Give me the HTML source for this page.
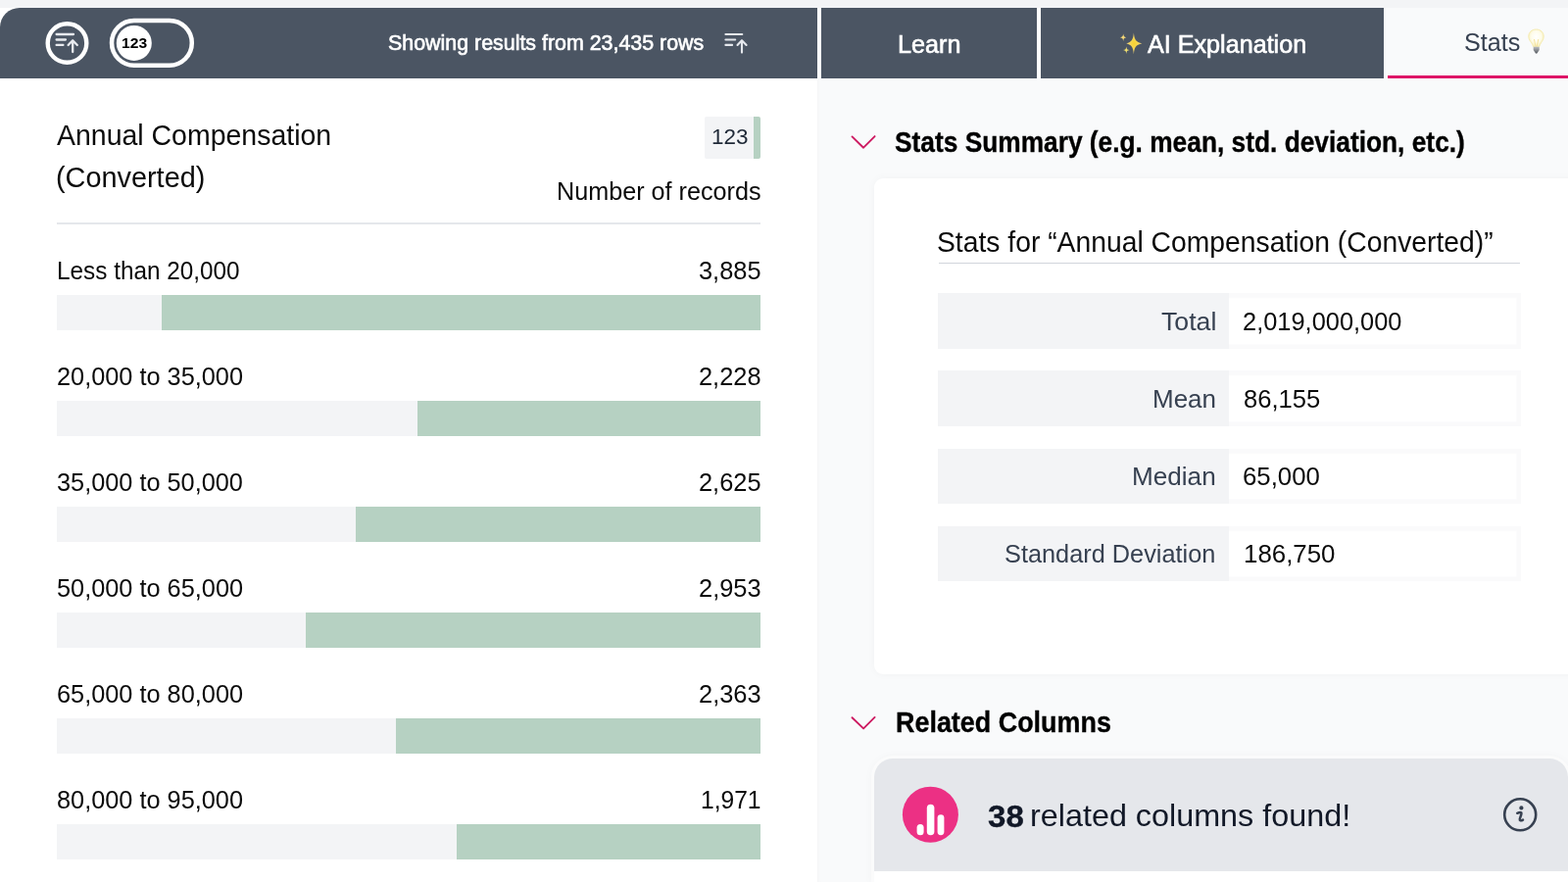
<!DOCTYPE html>
<html lang="en">
<head>
<meta charset="utf-8">
<title>Annual Compensation (Converted) – Stats</title>
<style>
html,body{margin:0;padding:0;}
body{width:1600px;height:900px;overflow:hidden;position:relative;background:#f3f4f6;font-family:"Liberation Sans",sans-serif;}
.abs{position:absolute;}
.t{position:absolute;white-space:nowrap;line-height:1;font-family:"Liberation Sans",sans-serif;transform-origin:0 50%;}
.dark{background:#4b5563;}
.track{position:absolute;left:58px;width:718px;height:35.5px;background:#f3f4f6;}
.fill{position:absolute;right:0;top:0;height:100%;background:#b6d1c2;}
.srow{position:absolute;left:956.5px;width:595px;height:56.5px;background:#ffffff;box-shadow:inset 0 0 0 4.5px #fafafb, inset 0 7px 3px -3px rgba(0,0,0,0.035);}
.srow i{position:absolute;left:0;top:0;width:297.5px;height:100%;background:#f3f4f6;display:block;}
</style>
</head>
<body>
<!-- header strip -->
<div class="abs" style="left:0;top:8px;width:1600px;height:72px;background:#ffffff;"></div>

<div class="abs dark" style="left:0;top:8px;width:834px;height:72px;border-top-left-radius:20px;"></div>
<div class="abs dark" style="left:838px;top:8px;width:220px;height:72px;"></div>
<div class="abs dark" style="left:1062px;top:8px;width:350px;height:72px;"></div>
<div class="abs" style="left:1412px;top:8px;width:188px;height:72px;background:#f9fafb;"></div>
<div class="abs" style="left:1416px;top:76.5px;width:184px;height:3.5px;background:#de1467;"></div>

<!-- panels -->
<div class="abs" style="left:0;top:80px;width:834px;height:820px;background:#ffffff;"></div>
<div class="abs" style="left:834px;top:80px;width:766px;height:820px;background:#f9fafb;box-shadow:inset 3px 0 4px -3px rgba(0,0,0,0.04);"></div>

<!-- header icons -->
<svg class="abs" style="left:0;top:8px" width="834" height="72" viewBox="0 8 834 72">
  <circle cx="68.5" cy="44" r="19.8" fill="none" stroke="#ffffff" stroke-width="4.4"/>
  <g stroke="#e8eaee" stroke-width="2.3" stroke-linecap="round" fill="none">
    <path d="M57.6 35H75 M57.6 40.5H66.9 M57.6 45.9H64.4"/>
    <path d="M74.2 53V41.4 M69.6 46L74.2 41.3L78.8 46" stroke-linejoin="round"/>
  </g>
  <rect x="114" y="21" width="81.8" height="45.7" rx="22.85" fill="none" stroke="#ffffff" stroke-width="4.5"/>
  <circle cx="136.8" cy="43.9" r="18" fill="#ffffff"/>
  <g stroke="#e4e7ec" stroke-width="2.1" stroke-linecap="round" fill="none">
    <path d="M740.4 35H757.3 M740.4 40.5H750.2 M740.4 45.9H747.1"/>
    <path d="M757 53.6V41.3 M752.5 46L757 41.2L761.6 46" stroke-linejoin="round"/>
  </g>
</svg>

<!-- sparkles + bulb emoji as svg -->
<svg class="abs" style="left:1140px;top:30px" width="28" height="28" viewBox="1140 30 28 28" role="img" aria-label="sparkles"><title>✨</title>
  <defs>
    <radialGradient id="sg" cx="50%" cy="50%" r="50%"><stop offset="0" stop-color="#f7d22f"/><stop offset="0.45" stop-color="#f6d650"/><stop offset="1" stop-color="#e9cf8a"/></radialGradient>
  </defs>
  <path d="M1156.9 33.4 C1157.6 40.4 1158.9 42.6 1165.3 44.3 C1158.9 46 1157.6 48.2 1156.9 55.3 C1156.2 48.2 1154.9 46 1149.3 44.3 C1154.9 42.6 1156.2 40.4 1156.9 33.4Z" fill="url(#sg)"/>
  <path d="M1146.2 34.5 C1146.5 37 1147 37.7 1149.2 38.2 C1147 38.7 1146.5 39.4 1146.2 42 C1145.9 39.4 1145.4 38.7 1143 38.2 C1145.4 37.7 1145.9 37 1146.2 34.5Z" fill="#f5d878"/>
  <path d="M1149.3 47.4 C1149.6 50 1150.1 50.6 1152.6 51.1 C1150.1 51.6 1149.6 52.3 1149.3 54.9 C1149 52.3 1148.5 51.6 1146 51.1 C1148.5 50.6 1149 50 1149.3 47.4Z" fill="#f1e070"/>
</svg>
<svg class="abs" style="left:1556px;top:27px" width="24" height="30" viewBox="1556 27 24 30" role="img" aria-label="light bulb"><title>💡</title>
  <defs>
    <radialGradient id="bg" cx="50%" cy="42%" r="55%"><stop offset="0" stop-color="#ffffff"/><stop offset="0.6" stop-color="#fefcea"/><stop offset="1" stop-color="#f7efbc"/></radialGradient>
    <linearGradient id="bb" x1="0" y1="0" x2="0" y2="1"><stop offset="0" stop-color="#b9bcc0"/><stop offset="1" stop-color="#55595f"/></linearGradient>
  </defs>
  <path d="M1567.5 30 C1562.8 30 1559.8 33.3 1559.8 37.2 C1559.8 40.2 1561.6 42 1562.8 43.8 C1563.7 45.2 1564.3 46.4 1564.6 47.8 H1570.6 C1570.9 46.4 1571.5 45.2 1572.4 43.8 C1573.6 42 1575.2 40.2 1575.2 37.2 C1575.2 33.3 1572.2 30 1567.5 30Z" fill="url(#bg)" stroke="#f4e9a8" stroke-width="0.9"/>
  <path d="M1565.4 40 L1567 47.4 M1569.8 40 L1568.2 47.4" stroke="#f2dc8c" stroke-width="0.8" fill="none"/>
  <path d="M1564.7 47.8 H1570.7 V51 L1568.6 54.3 Q1567.7 55.2 1566.8 54.3 L1564.7 51Z" fill="url(#bb)"/>
</svg>

<!-- left panel -->
<div class="abs" style="left:719.2px;top:119.2px;width:49.4px;height:42.5px;background:#f3f4f6;border-right:7.5px solid #b6d1c2;border-radius:2px;"></div>
<div class="abs" style="left:58px;top:227.3px;width:718px;height:1.4px;background:#e5e7eb;"></div>
<div class="track" style="top:301.2px"><div class="fill" style="width:611px"></div></div>
<div class="track" style="top:409.2px"><div class="fill" style="width:350.5px"></div></div>
<div class="track" style="top:517.2px"><div class="fill" style="width:413px"></div></div>
<div class="track" style="top:625.2px"><div class="fill" style="width:464.4px"></div></div>
<div class="track" style="top:733.2px"><div class="fill" style="width:371.6px"></div></div>
<div class="track" style="top:841.2px"><div class="fill" style="width:310px"></div></div>

<!-- right panel -->
<svg class="abs" style="left:866px;top:134px" width="30" height="22" viewBox="866 134 30 22"><path d="M869.5 139.4L881.1 150.7L892.6 139.1" fill="none" stroke="#cd1a61" stroke-width="1.9" stroke-linecap="round" stroke-linejoin="round"/></svg>
<div class="abs" style="left:891.5px;top:181.5px;width:720px;height:506px;background:#ffffff;border-radius:9px;box-shadow:0 0 8px rgba(0,0,0,0.035);"></div>
<div class="abs" style="left:957.5px;top:267.6px;width:593.5px;height:1.3px;background:#d1d5db;"></div>
<div class="srow" style="top:299px"><i></i></div>
<div class="srow" style="top:378.2px"><i></i></div>
<div class="srow" style="top:457.5px"><i></i></div>
<div class="srow" style="top:536.8px"><i></i></div>

<svg class="abs" style="left:866px;top:727px" width="30" height="22" viewBox="866 727 30 22"><path d="M869.5 732.2L881.1 743.4L892.6 731.9" fill="none" stroke="#cd1a61" stroke-width="1.9" stroke-linecap="round" stroke-linejoin="round"/></svg>
<div class="abs" style="left:892.3px;top:773.7px;width:707.7px;height:130px;background:#ffffff;border-radius:19px 19px 0 0;box-shadow:0 0 0 3px rgba(255,255,255,0.55),0 0 12px rgba(0,0,0,0.05);"></div>
<div class="abs" style="left:892.3px;top:773.7px;width:707.7px;height:115.3px;background:#e5e7eb;border-radius:19px 19px 0 0;"></div>
<svg class="abs" style="left:920px;top:802px" width="60" height="60" viewBox="920 802 60 60">
  <circle cx="949.4" cy="831.2" r="28.5" fill="#ec3084"/>
  <g stroke="#ffffff" stroke-linecap="round" fill="none">
    <path d="M939.1 844.4V848.7" stroke-width="7"/>
    <path d="M949.6 824.5V848.4" stroke-width="7.6"/>
    <path d="M960 834.6V848.8" stroke-width="6.8"/>
  </g>
</svg>
<svg class="abs" style="left:1530px;top:811px" width="42" height="42" viewBox="1530 811 42 42">
  <circle cx="1551.2" cy="831.3" r="16" fill="none" stroke="#374151" stroke-width="2.6"/>
  <circle cx="1552.4" cy="824.4" r="2.1" fill="#374151"/>
  <path d="M1548.2 829.8 C1549.8 829 1551.8 828.8 1552.4 829.4 C1553 830.2 1551.2 833.8 1550.8 835.8 C1550.5 837.4 1551.8 837.8 1554 836.6" fill="none" stroke="#374151" stroke-width="2.5" stroke-linecap="round"/>
</svg>

<div class="t" style="left:396.47px;top:34.16px;font-size:21.43px;color:#ffffff;transform:scaleX(0.9987);-webkit-text-stroke:0.6px #ffffff;">Showing results from 23,435 rows</div>
<div class="t" style="left:916.48px;top:32.84px;font-size:25px;color:#ffffff;transform:scaleX(1.0073);-webkit-text-stroke:0.6px #ffffff;">Learn</div>
<div class="t" style="left:1171.36px;top:32.84px;font-size:25px;color:#ffffff;transform:scaleX(1.0060);-webkit-text-stroke:0.6px #ffffff;">AI Explanation</div>
<div class="t" style="left:1493.72px;top:30.74px;font-size:25px;color:#374151;transform:scaleX(1.0061);">Stats</div>
<div class="t" style="left:57.61px;top:124.02px;font-size:28.57px;color:#0a0a0a;transform:scaleX(0.9967);">Annual Compensation</div>
<div class="t" style="left:56.90px;top:166.92px;font-size:28.57px;color:#0a0a0a;transform:scaleX(1.0101);">(Converted)</div>
<div class="t" style="left:725.50px;top:130.16px;font-size:21.43px;color:#1f2937;transform:scaleX(1.0492);">123</div>
<div class="t" style="left:568.46px;top:182.74px;font-size:25px;color:#0a0a0a;transform:scaleX(1.0077);">Number of records</div>
<div class="t" style="left:912.94px;top:130.98px;font-size:29.2px;color:#000000;font-weight:700;transform:scaleX(0.9013);-webkit-text-stroke:0.35px #000000;">Stats Summary (e.g. mean, std. deviation, etc.)</div>
<div class="t" style="left:956.25px;top:232.52px;font-size:28.57px;color:#0a0a0a;transform:scaleX(0.9904);">Stats for “Annual Compensation (Converted)”</div>
<div class="t" style="left:914.23px;top:723.48px;font-size:29.2px;color:#000000;font-weight:700;transform:scaleX(0.9223);-webkit-text-stroke:0.35px #000000;">Related Columns</div>
<div class="t" style="left:124.30px;top:37.05px;font-size:14px;color:#000000;font-weight:700;transform:scaleX(1.1177);">123</div>
<div class="t" style="left:57.50px;top:264.24px;font-size:25px;color:#0a0a0a;transform:scaleX(0.9729);">Less than 20,000</div>
<div class="t" style="left:712.77px;top:264.24px;font-size:25px;color:#0a0a0a;transform:scaleX(1.0155);">3,885</div>
<div class="t" style="left:57.61px;top:372.24px;font-size:25px;color:#0a0a0a;transform:scaleX(1.0123);">20,000 to 35,000</div>
<div class="t" style="left:712.76px;top:372.24px;font-size:25px;color:#0a0a0a;transform:scaleX(1.0156);">2,228</div>
<div class="t" style="left:57.62px;top:480.24px;font-size:25px;color:#0a0a0a;transform:scaleX(1.0121);">35,000 to 50,000</div>
<div class="t" style="left:712.76px;top:480.24px;font-size:25px;color:#0a0a0a;transform:scaleX(1.0156);">2,625</div>
<div class="t" style="left:57.59px;top:588.24px;font-size:25px;color:#0a0a0a;transform:scaleX(1.0126);">50,000 to 65,000</div>
<div class="t" style="left:712.76px;top:588.24px;font-size:25px;color:#0a0a0a;transform:scaleX(1.0168);">2,953</div>
<div class="t" style="left:57.59px;top:696.24px;font-size:25px;color:#0a0a0a;transform:scaleX(1.0127);">65,000 to 80,000</div>
<div class="t" style="left:712.76px;top:696.24px;font-size:25px;color:#0a0a0a;transform:scaleX(1.0168);">2,363</div>
<div class="t" style="left:57.66px;top:804.24px;font-size:25px;color:#0a0a0a;transform:scaleX(1.0125);">80,000 to 95,000</div>
<div class="t" style="left:714.50px;top:804.24px;font-size:25px;color:#0a0a0a;transform:scaleX(0.9839);">1,971</div>
<div class="t" style="left:1184.70px;top:315.54px;font-size:25px;color:#374151;transform:scaleX(1.0668);">Total</div>
<div class="t" style="left:1268.46px;top:315.54px;font-size:25px;color:#0a0a0a;transform:scaleX(1.0161);">2,019,000,000</div>
<div class="t" style="left:1175.53px;top:394.74px;font-size:25px;color:#374151;transform:scaleX(1.0392);">Mean</div>
<div class="t" style="left:1268.51px;top:394.74px;font-size:25px;color:#0a0a0a;transform:scaleX(1.0239);">86,155</div>
<div class="t" style="left:1154.92px;top:474.04px;font-size:25px;color:#374151;transform:scaleX(1.0446);">Median</div>
<div class="t" style="left:1268.43px;top:474.04px;font-size:25px;color:#0a0a0a;transform:scaleX(1.0310);">65,000</div>
<div class="t" style="left:1024.97px;top:553.14px;font-size:25px;color:#374151;transform:scaleX(1.0128);">Standard Deviation</div>
<div class="t" style="left:1269.25px;top:553.14px;font-size:25px;color:#0a0a0a;transform:scaleX(1.0345);">186,750</div>
<div class="t" style="left:1007.58px;top:816.81px;font-size:32px;color:#111827;font-weight:700;transform:scaleX(1.0336);-webkit-text-stroke:0.3px #111827;">38</div>
<div class="t" style="left:1051.21px;top:817.29px;font-size:31.43px;color:#111827;transform:scaleX(1.0291);">related columns found!</div>
</body>
</html>
